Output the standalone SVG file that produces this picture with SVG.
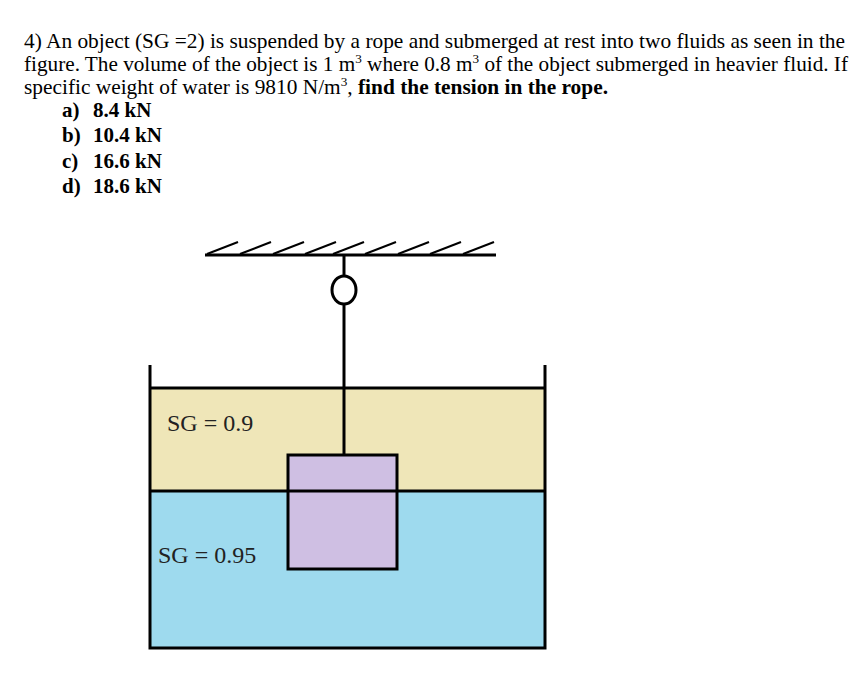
<svg xmlns="http://www.w3.org/2000/svg" width="866" height="676" viewBox="0 0 866 676">
<style>
.t{font-family:"Liberation Serif",serif;font-size:21px;fill:#000}
.b{font-weight:bold}
.sg{font-family:"Liberation Serif",serif;font-size:24px;fill:#222}
.k{stroke:#000;stroke-width:3;fill:none}
.h{stroke:#000;stroke-width:2}
</style>
<rect width="866" height="676" fill="#fff"/>
<g id="question">
<text class="t" x="24" y="48" textLength="821" lengthAdjust="spacingAndGlyphs">4) An object (SG =2) is suspended by a rope and submerged at rest into two fluids as seen in the</text>
<text class="t" x="24" y="71" textLength="824" lengthAdjust="spacingAndGlyphs">figure. The volume of the object is 1 m<tspan font-size="13" dy="-8">3</tspan><tspan dy="8"> where 0.8 m</tspan><tspan font-size="13" dy="-8">3</tspan><tspan dy="8"> of the object submerged in heavier fluid. If</tspan></text>
<text class="t" x="24" y="94" textLength="584" lengthAdjust="spacingAndGlyphs">specific weight of water is 9810 N/m<tspan font-size="13" dy="-8">3</tspan><tspan dy="8">, </tspan><tspan class="b">find the tension in the rope.</tspan></text>
<g class="t b">
<text x="62" y="117">a)</text><text x="93" y="117">8.4 kN</text>
<text x="62" y="142">b)</text><text x="93" y="142">10.4 kN</text>
<text x="62" y="168">c)</text><text x="93" y="168">16.6 kN</text>
<text x="62" y="193">d)</text><text x="93" y="193">18.6 kN</text>
</g>
</g>
<g id="ceiling">
<line class="k" x1="205" y1="255" x2="496" y2="255"/>
<g class="h">
<line x1="207" y1="254" x2="238" y2="242"/><line x1="240" y1="254" x2="271" y2="242"/><line x1="273" y1="254" x2="304" y2="242"/><line x1="305" y1="254" x2="336" y2="242"/><line x1="333" y1="254" x2="364" y2="242"/><line x1="365" y1="254" x2="396" y2="242"/><line x1="398" y1="254" x2="429" y2="242"/><line x1="430" y1="254" x2="461" y2="242"/><line x1="463" y1="254" x2="494" y2="242"/>
</g>
</g>
<g id="tank">
<rect x="150" y="388" width="395" height="103" fill="#efe6b8"/>
<rect x="150" y="491" width="395" height="157" fill="#9edaee"/>
<line class="k" x1="150" y1="388" x2="545" y2="388"/>
<line class="k" x1="150" y1="491" x2="545" y2="491"/>
<polyline class="k" points="150,365 150,648 545,648 545,365"/>
<text class="sg" x="167" y="431">SG = 0.9</text>
<text class="sg" x="158" y="563">SG = 0.95</text>
</g>
<g id="object">
<rect x="288" y="455" width="109" height="114" class="k" style="fill:#cfbfe3"/>
<line class="k" x1="288" y1="491" x2="397" y2="491"/>
</g>
<g id="connectors">
<line class="k" x1="344" y1="255" x2="344" y2="275"/>
<ellipse class="k" cx="344" cy="290" rx="12" ry="14"/>
<line class="k" x1="344" y1="304" x2="344" y2="456"/>
</g>
</svg>
